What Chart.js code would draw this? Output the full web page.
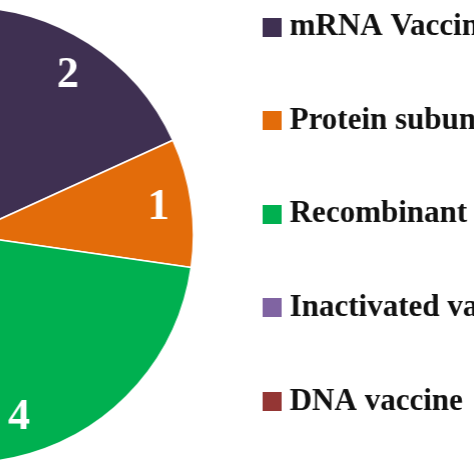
<!DOCTYPE html>
<html>
<head>
<meta charset="utf-8">
<script src="https://cdn.jsdelivr.net/npm/chart.js@4.4.1/dist/chart.umd.min.js"></script>
<style>
  html, body { margin: 0; padding: 0; background: #ffffff; overflow: hidden; width: 474px; height: 474px; }
  #wrap { position: absolute; left: -290px; top: -60px; width: 1000px; height: 590px; }
</style>
</head>
<body>
<div id="wrap"><canvas id="c"></canvas></div>
<script>
const categories = ["mRNA Vaccine", "Protein subunit vaccine", "Recombinant vector vaccine", "Inactivated vaccine", "DNA vaccine"];
const counts = [2, 1, 4, 3, 1];
const sliceColors = ["#3f3052", "#e36c0a", "#00b050", "#8064a2", "#943634"];

const LEGEND_FONT = { family: '"Liberation Serif", serif', size: 31, weight: 'bold' };
const LEGEND_PAD = 62.6;
const LEGEND_BOX = 4;
const PAD_LEFT = 13.1;
const PAD_RIGHT = 4;
const AREA_W = 483.8;

function swatch(color) {
  const s = document.createElement('canvas');
  s.width = 19; s.height = 19;
  const g = s.getContext('2d');
  g.fillStyle = color;
  g.fillRect(0, 0, 19, 19);
  return s;
}
const swatches = sliceColors.map(swatch);

const sliceLabels = {
  id: 'sliceLabels',
  afterDatasetsDraw(chart) {
    const ctx = chart.ctx;
    const meta = chart.getDatasetMeta(0);
    const values = chart.data.datasets[0].data;
    const size = 44;
    ctx.save();
    ctx.fillStyle = '#ffffff';
    ctx.font = 'bold ' + size + 'px "Liberation Serif", serif';
    ctx.textAlign = 'center';
    ctx.textBaseline = 'middle';
    meta.data.forEach((arc, i) => {
      const p = arc.getProps(['x', 'y', 'startAngle', 'endAngle', 'outerRadius'], true);
      const mid = (p.startAngle + p.endAngle) / 2;
      const txt = String(values[i]);
      const hw = ctx.measureText(txt).width / 2;
      const hh = size * 0.34;
      const ext = hw * Math.abs(Math.cos(mid)) + hh * Math.abs(Math.sin(mid));
      const r = p.outerRadius - 20 - ext;
      ctx.fillText(txt, p.x + r * Math.cos(mid), p.y + r * Math.sin(mid));
    });
    ctx.restore();
  }
};

const chart = new Chart(document.getElementById('c'), {
  type: 'pie',
  data: {
    labels: categories,
    datasets: [{
      data: counts,
      backgroundColor: sliceColors,
      borderColor: '#ffffff',
      borderWidth: 1.5
    }]
  },
  options: {
    responsive: true,
    maintainAspectRatio: false,
    animation: false,
    radius: 228,
    layout: { padding: { left: PAD_LEFT, right: PAD_RIGHT, top: 9, bottom: 9 } },
    plugins: {
      tooltip: { enabled: false },
      legend: {
        position: 'right',
        align: 'start',
        labels: {
          usePointStyle: true,
          boxWidth: LEGEND_BOX,
          boxHeight: 19,
          padding: LEGEND_PAD,
          color: '#111111',
          font: LEGEND_FONT,
          generateLabels(chart) {
            const items = Chart.controllers.pie.overrides.plugins.legend.labels.generateLabels(chart);
            items.forEach((it, i) => { it.pointStyle = swatches[i]; it.lineWidth = 0; });
            return items;
          }
        }
      }
    }
  },
  plugins: [sliceLabels]
});

// fit the canvas width so the pie area keeps a fixed width next to the legend
const lw = chart.legend.width;
document.getElementById('wrap').style.width = (PAD_LEFT + AREA_W + lw + PAD_RIGHT) + 'px';
chart.resize();
</script>
</body>
</html>
